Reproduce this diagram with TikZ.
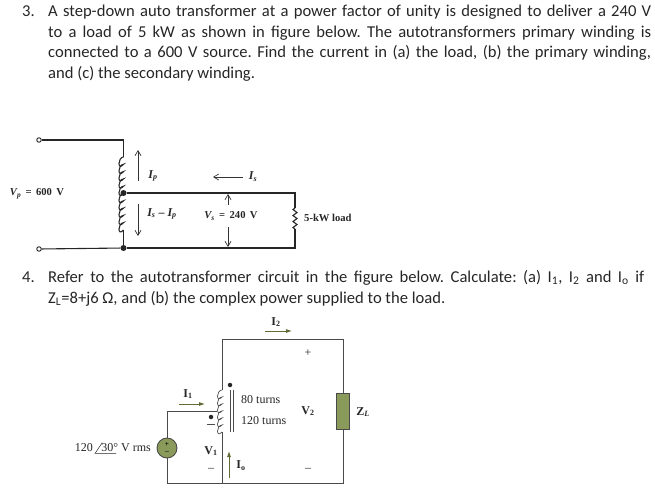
\documentclass[tikz,border=0pt]{standalone}
\usepackage{fontspec}
\setmainfont{Carlito}
\newfontfamily\lib{Liberation Serif}
\newfontfamily\libs{Liberation Sans}
\usetikzlibrary{arrows.meta,decorations.pathmorphing}
\definecolor{olv}{HTML}{8A9A5B}
\definecolor{arr}{HTML}{5E6B35}
\definecolor{wire}{HTML}{4A4A4A}
\frenchspacing
\tikzset{
 para/.style={anchor=base west,inner sep=0,font=\fontsize{16.6pt}{17pt}\selectfont,text=black!85},
 wa/.style={line width=1.1pt,black!85},
 wb/.style={line width=.9pt,wire},
 cura/.style={line width=.7pt,black!80,-{Straight Barb[length=5pt,width=6pt]}},
 curb/.style={line width=.8pt,arr,-{Latex[length=6pt,width=4pt]}},
 terminal/.style={circle,draw=black!85,fill=white,line width=.9pt,inner sep=0,minimum size=4.5pt},
 jct/.style={circle,fill=black!85,inner sep=0,minimum size=6pt},
 la/.style={inner sep=0,font=\lib\bfseries\fontsize{10.6pt}{11pt}\selectfont,text=black!85},
 lbig/.style={inner sep=0,font=\lib\bfseries\fontsize{12pt}{13pt}\selectfont,text=black!85},
 lb/.style={inner sep=0,font=\lib\fontsize{12pt}{13pt}\selectfont,text=black!85},
 lbb/.style={inner sep=0,font=\lib\bfseries\fontsize{12pt}{13pt}\selectfont,text=black!85},
}
\begin{document}
\begin{tikzpicture}[x=1pt,y=-1pt]
\useasboundingbox (0,0) rectangle (655,490);
% question 3
\node[para] (q3) at (22,16) {3.};
\node[para] (l1) at (48,16) {\makebox[603pt][s]{A step-down auto transformer at a power factor of unity is designed to deliver a 240 V}};
\node[para] (l2) at (48,37) {\makebox[603pt][s]{to a load of 5 kW as shown in figure below. The autotransformers primary winding is}};
\node[para] (l3) at (48,57) {\makebox[603pt][s]{connected to a 600 V source. Find the current in (a) the load, (b) the primary winding,}};
\node[para] (l4) at (48,78) {and (c) the secondary winding.};
% circuit 1
\node[terminal] (t1) at (39,140) {};
\node[terminal] (t2) at (39,249) {};
\coordinate (c1) at (123.5,140);
\coordinate (c2) at (123.5,157);
\coordinate (c3) at (123.5,193);
\coordinate (c4) at (123.5,230);
\node[jct] (n1) at (123.5,193) {};
\node[jct] (n2) at (123.5,248) {};
\coordinate (r1) at (295,193);
\coordinate (r2) at (295,208);
\coordinate (r3) at (295,229);
\coordinate (r4) at (295,248);
\draw[wa] (t1) -- (c1) -- (c2);
\draw[wa] (c4) -- (n2) -- (r4) -- (r3);
\draw[wa] (n2) -- (t2);
\draw[wa] (n1) -- (r1) -- (r2);
\draw[wa] (c2)
  \foreach \i in {0,1,2,3,4,5,6,7,8,9}{ .. controls ++(-6,.5) and ++(-6,7) .. ++(0,7.3) };
\draw[wa] (r2) -- ++(-2,1.5) -- ++(4,3) -- ++(-4,3) -- ++(4,3) -- ++(-4,3) -- ++(4,3) -- ++(-4,3) -- (r3);
\coordinate (a1s) at (138,181); \coordinate (a1e) at (138,150);
\coordinate (a2s) at (138,204); \coordinate (a2e) at (138,236);
\coordinate (a3s) at (243,177); \coordinate (a3e) at (213,177);
\coordinate (a4s) at (228,205); \coordinate (a4e) at (228,194);
\coordinate (a5s) at (228,227); \coordinate (a5e) at (228,247);
\draw[cura] (a1s) -- (a1e);
\draw[cura] (a2s) -- (a2e);
\draw[cura] (a3s) -- (a3e);
\draw[cura] (a4s) -- (a4e);
\draw[cura] (a5s) -- (a5e);
\node[la] (vp) at (37,194) {\textit{V\textsubscript{p}}\ \,=\ \,600\ \,V};
\node[lbig] (ip) at (153,176) {\textit{I\textsubscript{p}}};
\node[lbig] (isp) at (162,214) {\textit{I\textsubscript{s}}\ –\ \textit{I\textsubscript{p}}};
\node[lbig] (is) at (253,177) {\textit{I\textsubscript{s}}};
\node[la] (vs) at (231,216) {\textit{V\textsubscript{s}}\ \,=\ \,240\ \,V};
\node[la,anchor=west] (load) at (304,218) {5-kW load};
% question 4
\node[para] (q4) at (22,282) {4.};
\node[para] (m1) at (48,282) {\makebox[596pt][s]{Refer to the autotransformer circuit in the figure below. Calculate: (a) I\textsubscript{1}, I\textsubscript{2} and I\textsubscript{o} if}};
\node[para] (m2) at (48,303) {Z\textsubscript{L}=8+j6 Ω, and (b) the complex power supplied to the load.};
% circuit 2
\coordinate (k1) at (222,339);
\coordinate (k2) at (343,339);
\coordinate (k3) at (222,390);
\coordinate (k4) at (222,432);
\coordinate (k5) at (222,483);
\coordinate (k6) at (343,483);
\coordinate (k7) at (167,483);
\coordinate (k8) at (167,411);
\coordinate (k9) at (217,411);
\node[draw=wire,fill=olv,line width=.8pt,minimum width=13pt,minimum height=36pt,inner sep=0] (zl) at (343,411) {};
\node[circle,draw=wire,fill=olv,line width=.9pt,minimum size=20pt,inner sep=0] (src) at (167,448) {};
\node[inner sep=0,font=\libs\fontsize{7pt}{7pt}\selectfont] (sp) at (167,444) {+};
\node[inner sep=0,font=\libs\fontsize{7pt}{7pt}\selectfont] (sm) at (167,452) {–};
\draw[wb] (k3) -- (k1) -- (k2) -- (zl.north);
\draw[wb] (zl.south) -- (k6) -- (k7) -- (src.south);
\draw[wb] (src.north) -- (k8) -- (k9);
\draw[wb] (k4) -- (k5);
\draw[line width=.7pt,wire] (k3)
  \foreach \i in {0,1,2,3,4,5}{ .. controls ++(-6,.5) and ++(-6,6.5) .. ++(0,7) };
\coordinate (co1) at (230.5,390); \coordinate (co2) at (230.5,432);
\coordinate (co3) at (233,390); \coordinate (co4) at (233,432);
\draw[line width=.6pt,black!70] (co1) -- (co2);
\draw[line width=.6pt,black!70] (co3) -- (co4);
\node[circle,fill=black!85,inner sep=0,minimum size=4.5pt] (d1) at (230,385) {};
\node[circle,fill=black!85,inner sep=0,minimum size=4.5pt] (d2) at (211,417) {};
\coordinate (d3) at (207,424); \coordinate (d4) at (215,424);
\draw[line width=.5pt,black!70] (d3) -- (d4);
\coordinate (b1s) at (265,331); \coordinate (b1e) at (292,331);
\coordinate (b2s) at (179,404); \coordinate (b2e) at (205,404);
\coordinate (b3s) at (229,478); \coordinate (b3e) at (229,451);
\draw[curb] (b1s) -- (b1e);
\draw[curb] (b2s) -- (b2e);
\draw[curb] (b3s) -- (b3e);
\node[lbb] (i2) at (276,322) {I\textsubscript{2}};
\node[lbb] (i1) at (188,394) {I\textsubscript{1}};
\node[lbb] (io) at (241,466) {I\textsubscript{o}};
\node[lb,anchor=west] (t80) at (241,400) {80 turns};
\node[lb,anchor=west] (t120) at (241,421) {120 turns};
\node[lbb] (v2) at (308,411) {V\textsubscript{2}};
\node[lbb] (v1) at (211,451) {V\textsubscript{1}};
\node[lb] (pl) at (308,353) {+};
\node[lb] (m1a) at (308,470) {–};
\node[lb] (m2a) at (211,470) {–};
\node[lbb] (zlab) at (363,412) {Z\textsubscript{\textit{L}}};
\node[lb,anchor=east] (vsrc) at (151,448) {120\,\tikz[baseline=0pt,x=1pt,y=1pt]{\draw[line width=.5pt] (7,9) -- (0,-1.5) -- (21,-1.5);\node[inner sep=0,anchor=base west] (ang) at (6,0) {30°};}\ V rms};
\end{tikzpicture}
\end{document}
